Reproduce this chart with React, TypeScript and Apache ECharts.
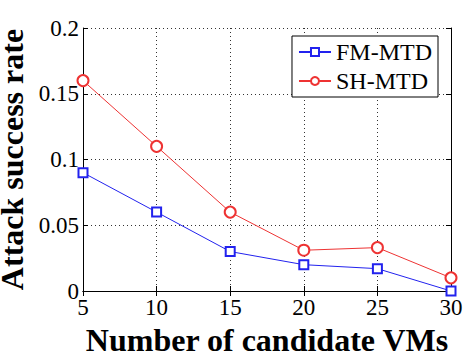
import React, { useEffect, useRef } from "react";
import * as echarts from "echarts";

const xValues = [5, 10, 15, 20, 25, 30];
const fmMtd = [0.09, 0.06, 0.03, 0.02, 0.017, 0.0];
const shMtd = [0.16, 0.11, 0.06, 0.031, 0.033, 0.01];
const seriesNames = ["FM-MTD", "SH-MTD"];

export default function App() {
  const ref = useRef<HTMLDivElement>(null);
  useEffect(() => {
    if (!ref.current) return;
    const chart = echarts.init(ref.current, null, { renderer: "svg" });
    const font = "Times New Roman";
    const baseX = {
      type: "value",
      min: 5,
      max: 30,
      interval: 5,
      axisLine: { show: true, lineStyle: { color: "#000", width: 1 } },
      axisTick: { show: true, inside: true, length: 5, lineStyle: { color: "#000" } },
    };
    const baseY = {
      type: "value",
      min: 0,
      max: 0.2,
      interval: 0.05,
      axisLine: { show: true, lineStyle: { color: "#000", width: 1 } },
      axisTick: { show: true, inside: true, length: 5, lineStyle: { color: "#000" } },
    };
    chart.setOption({
      animation: false,
      backgroundColor: "#fff",
      textStyle: { fontFamily: font },
      grid: { left: 83, right: 23, top: 28, bottom: 63, containLabel: false, outerBoundsMode: "none" },
      legend: {
        data: seriesNames,
        orient: "vertical",
        right: 36,
        top: 36,
        backgroundColor: "#fff",
        borderColor: "#000",
        borderWidth: 1,
        padding: [4, 6, 4, 6],
        itemGap: 5,
        itemWidth: 32,
        itemHeight: 10,
        textStyle: { fontFamily: font, fontSize: 24, color: "#000" },
      },
      xAxis: [
        {
          ...baseX,
          position: "bottom",
          axisLabel: { fontFamily: font, fontSize: 23, color: "#000", margin: 5 },
          splitLine: { show: true, lineStyle: { type: [1, 3], color: "#333" } },
          name: "Number of candidate VMs",
          nameLocation: "middle",
          nameGap: 24,
          nameTextStyle: { fontFamily: font, fontSize: 32, fontWeight: "bold", color: "#000", lineHeight: 32 },
        },
        {
          ...baseX,
          position: "top",
          axisLabel: { show: false },
          splitLine: { show: false },
        },
      ],
      yAxis: [
        {
          ...baseY,
          position: "left",
          axisLabel: {
            fontFamily: font,
            fontSize: 23,
            color: "#000",
            margin: 4,
            formatter: (v: number) => String(parseFloat(v.toFixed(2))),
          },
          splitLine: { show: true, lineStyle: { type: [1, 3], color: "#333" } },
          name: "Attack success rate",
          nameLocation: "middle",
          nameGap: 49,
          nameTextStyle: { fontFamily: font, fontSize: 32, fontWeight: "bold", color: "#000", lineHeight: 32 },
        },
        {
          ...baseY,
          position: "right",
          axisLabel: { show: false },
          splitLine: { show: false },
        },
      ],
      series: [
        {
          name: seriesNames[0],
          type: "line",
          data: xValues.map((x, i) => [x, fmMtd[i]]),
          symbol: "emptyRect",
          symbolSize: 9,
          lineStyle: { color: "#2222ee", width: 1 },
          itemStyle: { color: "#2222ee", borderWidth: 1 },
        },
        {
          name: seriesNames[1],
          type: "line",
          data: xValues.map((x, i) => [x, shMtd[i]]),
          symbol: "emptyCircle",
          symbolSize: 11,
          lineStyle: { color: "#ee3333", width: 1 },
          itemStyle: { color: "#ee3333", borderWidth: 1 },
        },
      ],
    });
    return () => chart.dispose();
  }, []);
  return <div ref={ref} style={{ width: 474, height: 354, position: "absolute", left: 0, top: 0 }} />;
}
